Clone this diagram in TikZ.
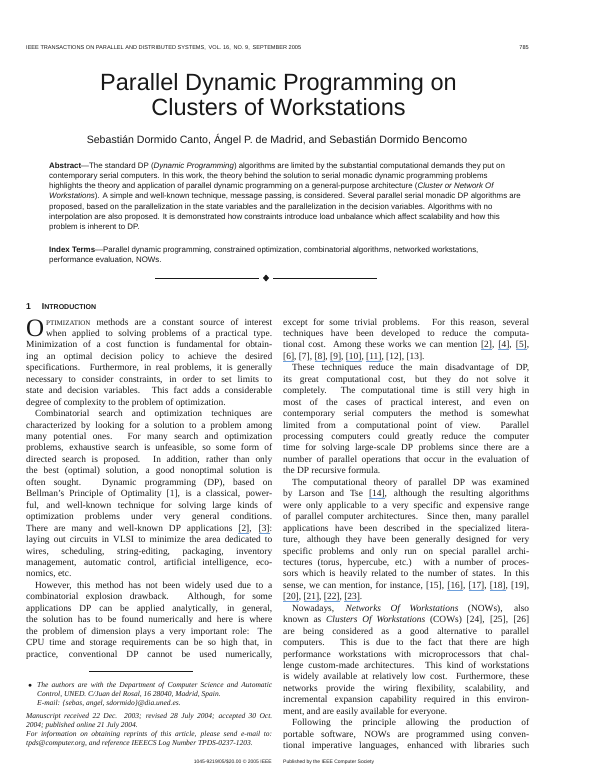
\documentclass[tikz,border=0pt]{standalone}
\usepackage{fontspec}
\setmainfont{Liberation Serif}
\setsansfont{Liberation Sans}
\definecolor{lb}{RGB}{110,160,220}
\definecolor{ink}{RGB}{25,25,25}
\newcommand\cit[1]{\sbox0{#1}\rlap{\color{lb}\rule[-2pt]{\wd0}{0.5pt}}\usebox0}
\newcommand\jl[1]{\hbox to\hsize{#1}}
\newcommand\rl[1]{\hbox{#1}}
\newcommand\pin{\hskip9pt}
\newcommand\fsc[1]{{\fontsize{7}{7}\selectfont #1}}
\tikzset{txt/.style={inner sep=0pt,anchor=base west,text=ink}}
\begin{document}
\begin{tikzpicture}[x=1pt,y=-1pt]
\useasboundingbox[fill=white] (0,0) rectangle (600,776);
% header
\node[txt] (hdr) at (26,50) {\sffamily\fontsize{5.6}{6}\selectfont IEEE TRANSACTIONS ON PARALLEL AND DISTRIBUTED SYSTEMS,\enspace VOL. 16,\enspace NO. 9,\enspace SEPTEMBER 2005};
\node[txt,anchor=base east] (pg) at (529,50) {\sffamily\fontsize{5.6}{6}\selectfont 785};
% title
\node[txt,anchor=base] (t1) at (278.5,90) {\sffamily\fontsize{23.5}{26}\selectfont Parallel Dynamic Programming on};
\node[txt,anchor=base] (t2) at (278.5,115) {\sffamily\fontsize{23.5}{26}\selectfont Clusters of Workstations};
\node[txt,anchor=base] (au) at (277,143) {\sffamily\fontsize{10.6}{12}\selectfont Sebasti\'an Dormido Canto, \'Angel P. de Madrid, and Sebasti\'an Dormido Bencomo};
% abstract
\node[txt] (abs) at (49,168) {\vtop{\sffamily\fontsize{7.9}{10.3}\selectfont\hsize=470pt\baselineskip=10.3pt
\rl{\textbf{Abstract}---The standard DP (\textit{Dynamic Programming}) algorithms are limited by the substantial computational demands they put on}
\rl{contemporary serial computers. In this work, the theory behind the solution to serial monadic dynamic programming problems}
\rl{highlights the theory and application of parallel dynamic programming on a general-purpose architecture (\textit{Cluster or Network Of}}
\rl{\textit{Workstations}). A simple and well-known technique, message passing, is considered. Several parallel serial monadic DP algorithms are}
\rl{proposed, based on the parallelization in the state variables and the parallelization in the decision variables. Algorithms with no}
\rl{interpolation are also proposed. It is demonstrated how constraints introduce load unbalance which affect scalability and how this}
\rl{problem is inherent to DP.}}};
\node[txt] (idx) at (49,252) {\vtop{\sffamily\fontsize{7.9}{10.3}\selectfont\hsize=470pt\baselineskip=10.3pt
\rl{\textbf{Index Terms}---Parallel dynamic programming, constrained optimization, combinatorial algorithms, networked workstations,}
\rl{performance evaluation, NOWs.}}};
% divider
\coordinate (d1) at (155,278); \coordinate (d2) at (259,278);
\coordinate (d3) at (273,278); \coordinate (d4) at (377,278);
\draw[ink,line width=0.6pt] (d1) -- (d2) (d3) -- (d4);
\fill[ink] (266,274.5) -- (269,278) -- (266,281.5) -- (263,278) -- cycle;
% section heading
\node[txt] (sec) at (26,309) {\sffamily\bfseries\fontsize{8.6}{10}\selectfont 1\hskip11pt I{\fontsize{7}{8}\selectfont NTRODUCTION}};
% drop cap
\node[txt] (dropO) at (26,336.45) {\fontsize{25}{25}\selectfont O};
% left column
\node[txt] (lcol) at (26,325) {\vtop{\fontsize{9.4}{11.45}\selectfont\hsize=246pt\baselineskip=11.45pt\lineskiplimit=-20pt
\jl{\hskip20pt\fsc{PTIMIZATION} methods are a constant source of interest}
\jl{\hskip20pt when applied to solving problems of a practical type.}
\jl{Minimization of a cost function is fundamental for obtain-}
\jl{ing an optimal decision policy to achieve the desired}
\jl{specifications. Furthermore, in real problems, it is generally}
\jl{necessary to consider constraints, in order to set limits to}
\jl{state and decision variables. This fact adds a considerable}
\rl{degree of complexity to the problem of optimization.}
\jl{\pin Combinatorial search and optimization techniques are}
\jl{characterized by looking for a solution to a problem among}
\jl{many potential ones. For many search and optimization}
\jl{problems, exhaustive search is unfeasible, so some form of}
\jl{directed search is proposed. In addition, rather than only}
\jl{the best (optimal) solution, a good nonoptimal solution is}
\jl{often sought. Dynamic programming (DP), based on}
\jl{Bellman's Principle of Optimality [1], is a classical, power-}
\jl{ful, and well-known technique for solving large kinds of}
\jl{optimization problems under very general conditions.}
\jl{There are many and well-known DP applications \cit{[2]}, \cit{[3]}:}
\jl{laying out circuits in VLSI to minimize the area dedicated to}
\jl{wires, scheduling, string-editing, packaging, inventory}
\jl{management, automatic control, artificial intelligence, eco-}
\rl{nomics, etc.}
\jl{\pin However, this method has not been widely used due to a}
\jl{combinatorial explosion drawback. Although, for some}
\jl{applications DP can be applied analytically, in general,}
\jl{the solution has to be found numerically and here is where}
\jl{the problem of dimension plays a very important role: The}
\jl{CPU time and storage requirements can be so high that, in}
\jl{practice, conventional DP cannot be used numerically,}}};
% right column
\node[txt] (rcol) at (283,325) {\vtop{\fontsize{9.4}{11.45}\selectfont\hsize=246pt\baselineskip=11.45pt\lineskiplimit=-20pt
\jl{except for some trivial problems. For this reason, several}
\jl{techniques have been developed to reduce the computa-}
\jl{tional cost. Among these works we can mention \cit{[2]}, \cit{[4]}, \cit{[5]},}
\rl{\cit{[6]}, [7], \cit{[8]}, \cit{[9]}, \cit{[10]}, \cit{[11]}, [12], [13].}
\jl{\pin These techniques reduce the main disadvantage of DP,}
\jl{its great computational cost, but they do not solve it}
\jl{completely. The computational time is still very high in}
\jl{most of the cases of practical interest, and even on}
\jl{contemporary serial computers the method is somewhat}
\jl{limited from a computational point of view. Parallel}
\jl{processing computers could greatly reduce the computer}
\jl{time for solving large-scale DP problems since there are a}
\jl{number of parallel operations that occur in the evaluation of}
\rl{the DP recursive formula.}
\jl{\pin The computational theory of parallel DP was examined}
\jl{by Larson and Tse \cit{[14]}, although the resulting algorithms}
\jl{were only applicable to a very specific and expensive range}
\jl{of parallel computer architectures. Since then, many parallel}
\jl{applications have been described in the specialized litera-}
\jl{ture, although they have been generally designed for very}
\jl{specific problems and only run on special parallel archi-}
\jl{tectures (torus, hypercube, etc.) with a number of proces-}
\jl{sors which is heavily related to the number of states. In this}
\jl{sense, we can mention, for instance, [15], \cit{[16]}, \cit{[17]}, \cit{[18]}, [19],}
\rl{\cit{[20]}, \cit{[21]}, \cit{[22]}, \cit{[23]}.}
\jl{\pin Nowadays, \textit{Networks Of Workstations} (NOWs), also}
\jl{known as \textit{Clusters Of Workstations} (COWs) [24], [25], [26]}
\jl{are being considered as a good alternative to parallel}
\jl{computers. This is due to the fact that there are high}
\jl{performance workstations with microprocessors that chal-}
\jl{lenge custom-made architectures. This kind of workstations}
\jl{is widely available at relatively low cost. Furthermore, these}
\jl{networks provide the wiring flexibility, scalability, and}
\jl{incremental expansion capability required in this environ-}
\rl{ment, and are easily available for everyone.}
\jl{\pin Following the principle allowing the production of}
\jl{portable software, NOWs are programmed using conven-}
\jl{tional imperative languages, enhanced with libraries such}}};
% footnotes
\coordinate (f1) at (89,671); \coordinate (f2) at (193,671);
\draw[ink,line width=0.4pt] (f1) -- (f2);
\node[txt] (bul) at (28,687) {\fontsize{7.5}{9}\selectfont $\bullet$};
\node[txt] (fn1) at (37,687) {\vtop{\fontsize{7.5}{9.3}\selectfont\itshape\hsize=235pt\baselineskip=9.3pt
\jl{The authors are with the Department of Computer Science and Automatic}
\rl{Control, UNED. C/Juan del Rosal, 16 28040, Madrid, Spain.}
\rl{E-mail: \{sebas, angel, sdormido\}@dia.uned.es.}}};
\node[txt] (fn2) at (26,718) {\vtop{\fontsize{7.5}{9.3}\selectfont\itshape\hsize=246pt\baselineskip=9.3pt
\jl{Manuscript received 22 Dec. 2003; revised 28 July 2004; accepted 30 Oct.}
\rl{2004; published online 21 July 2004.}
\jl{For information on obtaining reprints of this article, please send e-mail to:}
\rl{tpds@computer.org, and reference IEEECS Log Number TPDS-0237-1203.}}};
% footer
\node[txt,anchor=base east] (ft1) at (272,763) {\sffamily\fontsize{5}{6}\selectfont 1045-9219/05/\$20.00 \textcopyright\ 2005 IEEE};
\node[txt] (ft2) at (283,763) {\sffamily\fontsize{5}{6}\selectfont Published by the IEEE Computer Society};
\end{tikzpicture}
\end{document}
